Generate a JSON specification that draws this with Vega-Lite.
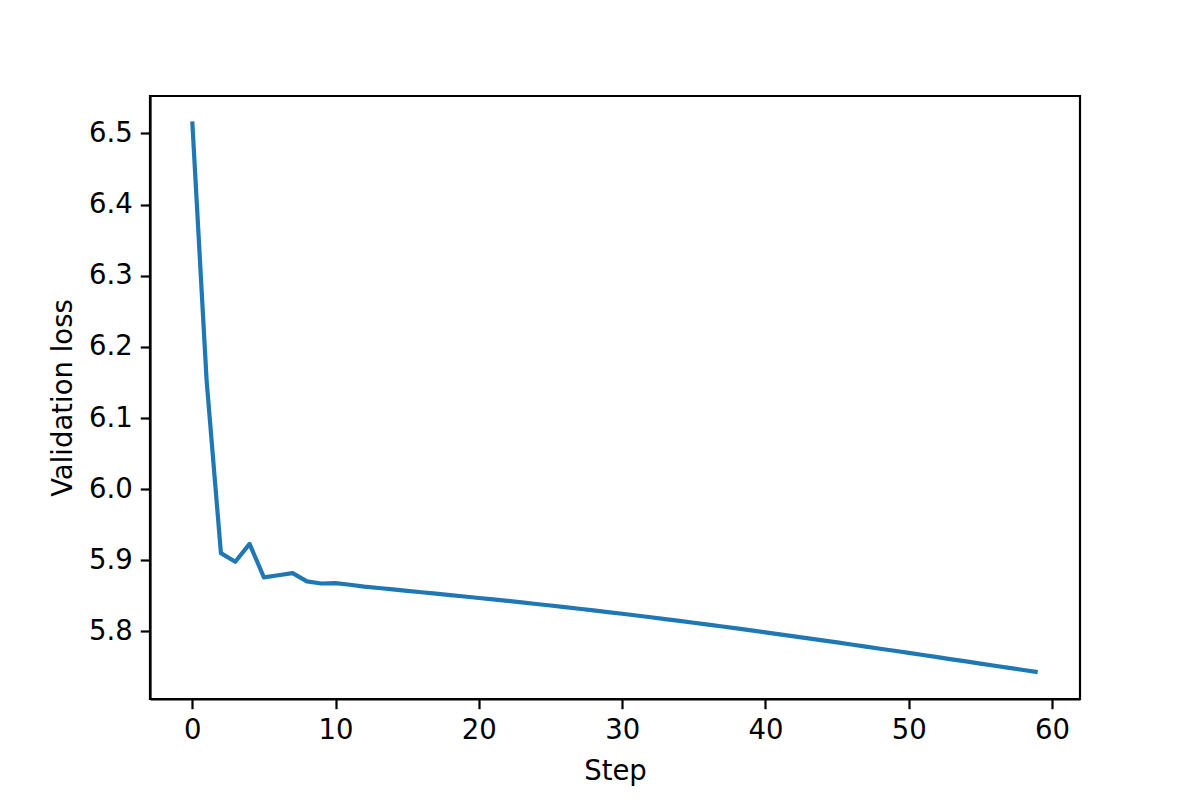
{
  "$schema": "https://vega.github.io/schema/vega-lite/v6.json",
  "autosize": {"type": "none"},
  "padding": {"left": 150, "top": 96, "right": 120, "bottom": 101},
  "width": 930,
  "height": 603,
  "background": "white",
  "config": {
    "view": {"stroke": "black", "strokeWidth": 2.2},
    "axis": {
      "labelFont": "DejaVu Sans",
      "titleFont": "DejaVu Sans",
      "labelFontSize": 27.5,
      "titleFontSize": 27.5,
      "titleFontWeight": "normal",
      "labelColor": "black",
      "titleColor": "black",
      "tickColor": "black",
      "tickWidth": 2.2,
      "tickSize": 9.7,
      "labelPadding": 8,
      "domainColor": "black",
      "domainWidth": 2.2,
      "grid": false
    }
  },
  "data": {
    "values": [
      {"step": 0, "loss": 6.517},
      {"step": 1, "loss": 6.153},
      {"step": 2, "loss": 5.910},
      {"step": 3, "loss": 5.898},
      {"step": 4, "loss": 5.923},
      {"step": 5, "loss": 5.876},
      {"step": 6, "loss": 5.879},
      {"step": 7, "loss": 5.882},
      {"step": 8, "loss": 5.8703},
      {"step": 9, "loss": 5.8674},
      {"step": 10, "loss": 5.868},
      {"step": 11, "loss": 5.8656},
      {"step": 12, "loss": 5.8630},
      {"step": 13, "loss": 5.8610},
      {"step": 14, "loss": 5.8590},
      {"step": 15, "loss": 5.8570},
      {"step": 16, "loss": 5.8551},
      {"step": 17, "loss": 5.8531},
      {"step": 18, "loss": 5.8511},
      {"step": 19, "loss": 5.8491},
      {"step": 20, "loss": 5.8470},
      {"step": 21, "loss": 5.8450},
      {"step": 22, "loss": 5.8429},
      {"step": 23, "loss": 5.8408},
      {"step": 24, "loss": 5.8386},
      {"step": 25, "loss": 5.8364},
      {"step": 26, "loss": 5.8342},
      {"step": 27, "loss": 5.8319},
      {"step": 28, "loss": 5.8296},
      {"step": 29, "loss": 5.8272},
      {"step": 30, "loss": 5.8248},
      {"step": 31, "loss": 5.8224},
      {"step": 32, "loss": 5.8199},
      {"step": 33, "loss": 5.8174},
      {"step": 34, "loss": 5.8148},
      {"step": 35, "loss": 5.8122},
      {"step": 36, "loss": 5.8096},
      {"step": 37, "loss": 5.8069},
      {"step": 38, "loss": 5.8042},
      {"step": 39, "loss": 5.8015},
      {"step": 40, "loss": 5.7987},
      {"step": 41, "loss": 5.7959},
      {"step": 42, "loss": 5.7931},
      {"step": 43, "loss": 5.7903},
      {"step": 44, "loss": 5.7874},
      {"step": 45, "loss": 5.7845},
      {"step": 46, "loss": 5.7816},
      {"step": 47, "loss": 5.7787},
      {"step": 48, "loss": 5.7757},
      {"step": 49, "loss": 5.7728},
      {"step": 50, "loss": 5.7698},
      {"step": 51, "loss": 5.7668},
      {"step": 52, "loss": 5.7638},
      {"step": 53, "loss": 5.7608},
      {"step": 54, "loss": 5.7578},
      {"step": 55, "loss": 5.7548},
      {"step": 56, "loss": 5.7518},
      {"step": 57, "loss": 5.7488},
      {"step": 58, "loss": 5.7458},
      {"step": 59, "loss": 5.7428}
    ]
  },
  "mark": {"type": "line", "color": "#1f77b4", "strokeWidth": 4.2, "strokeJoin": "round", "strokeCap": "butt", "clip": true},
  "encoding": {
    "x": {
      "field": "step",
      "type": "quantitative",
      "title": "Step",
      "scale": {"domain": [-2.95, 61.95], "nice": false, "zero": false},
      "axis": {"values": [0, 10, 20, 30, 40, 50, 60], "format": "d", "titlePadding": 13}
    },
    "y": {
      "field": "loss",
      "type": "quantitative",
      "title": "Validation loss",
      "scale": {"domain": [5.705, 6.5527], "nice": false, "zero": false},
      "axis": {"values": [5.8, 5.9, 6.0, 6.1, 6.2, 6.3, 6.4, 6.5], "format": ".1f", "titlePadding": 11}
    }
  }
}
